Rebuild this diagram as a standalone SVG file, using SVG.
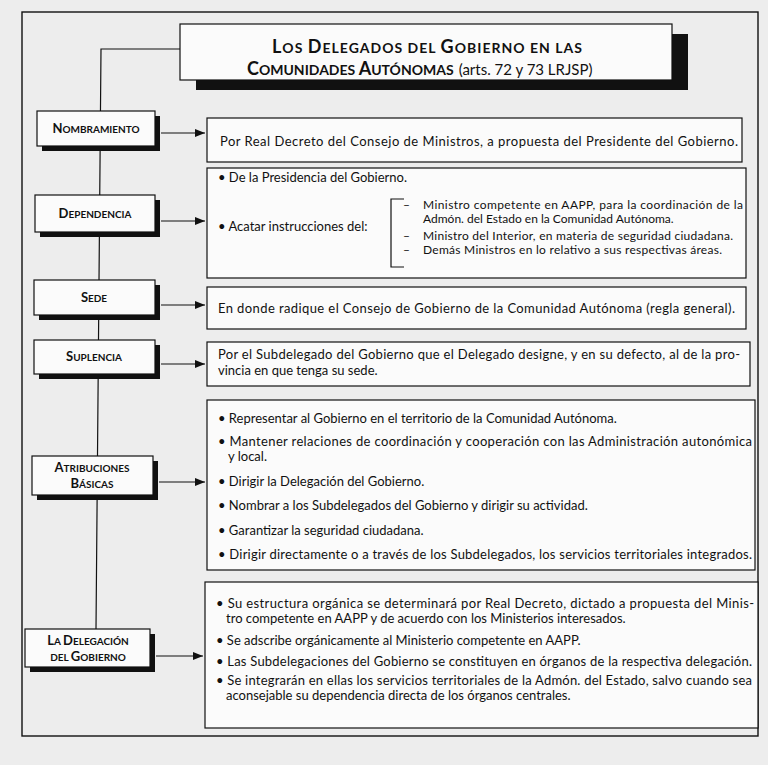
<svg xmlns="http://www.w3.org/2000/svg" width="768" height="765" viewBox="0 0 768 765">
<style>
.bg{fill:#ededed}
.frame{fill:none;stroke:#111;stroke-width:1.4}
.box{fill:#fbfbfb;stroke:#111;stroke-width:1.2}
.sh{fill:#111}
.ln{fill:none;stroke:#111;stroke-width:1.2}
.lbl{font-family:Lato,"Liberation Sans",sans-serif;font-weight:700;font-size:10px;fill:#111;text-anchor:middle}
.c{font-size:13px}
.t{font-family:Lato,"Liberation Sans",sans-serif;font-size:13px;fill:#111}
.s{font-family:Lato,"Liberation Sans",sans-serif;font-size:12px;fill:#111}
.ttl{font-family:Lato,"Liberation Sans",sans-serif;font-weight:700;font-size:14px;fill:#111}
.C{font-size:18px}
.ttr{font-family:Lato,"Liberation Sans",sans-serif;font-weight:400;font-size:15px;fill:#111}
</style>
<defs>
<marker id="ah" markerWidth="10" markerHeight="8" refX="10" refY="4" orient="auto" markerUnits="userSpaceOnUse">
<path d="M0,0 L10,4 L0,8 Z" fill="#111"/>
</marker>
</defs>
<rect class="bg" x="0" y="0" width="768" height="765"/>
<rect class="frame" x="22" y="12" width="736" height="724"/>

<g id="connectors">
<path class="ln" d="M180,49 L101,49 L96,629"/>
<line class="ln" x1="161" y1="133" x2="205" y2="133" marker-end="url(#ah)"/>
<line class="ln" x1="161" y1="221" x2="205" y2="221" marker-end="url(#ah)"/>
<line class="ln" x1="161" y1="305" x2="205" y2="305" marker-end="url(#ah)"/>
<line class="ln" x1="161" y1="364" x2="205" y2="364" marker-end="url(#ah)"/>
<line class="ln" x1="159" y1="482" x2="205" y2="482" marker-end="url(#ah)"/>
<line class="ln" x1="156" y1="656" x2="203" y2="656" marker-end="url(#ah)"/>
</g>

<g id="title">
<rect class="sh" x="196" y="34" width="492" height="56"/>
<rect class="box" x="180" y="24" width="492" height="56"/>
<text class="ttl" x="427" y="53" text-anchor="middle" textLength="310"><tspan class="C">L</tspan>OS <tspan class="C">D</tspan>ELEGADOS DEL <tspan class="C">G</tspan>OBIERNO EN LAS</text>
<text class="ttl" x="247" y="75"><tspan class="C">C</tspan>OMUNIDADES <tspan class="C">A</tspan>UTÓNOMAS<tspan class="ttr" dx="5">(arts. 72 y 73 LRJSP)</tspan></text>
</g>

<g id="nombramiento">
<rect class="sh" x="42" y="116" width="118" height="35"/>
<rect class="box" x="37" y="111" width="118" height="35"/>
<text class="lbl" x="96" y="133"><tspan class="c">N</tspan>OMBRAMIENTO</text>
</g>
<g id="nombramiento-text">
<rect class="box" x="207" y="118" width="535" height="44"/>
<text class="t" x="220" y="146" textLength="518">Por Real Decreto del Consejo de Ministros, a propuesta del Presidente del Gobierno.</text>
</g>

<g id="dependencia">
<rect class="sh" x="40" y="200" width="120" height="37"/>
<rect class="box" x="35" y="195" width="120" height="37"/>
<text class="lbl" x="95" y="218"><tspan class="c">D</tspan>EPENDENCIA</text>
</g>
<g id="dependencia-text">
<rect class="box" x="207" y="168" width="539" height="110"/>
<text class="t" x="218" y="182">• De la Presidencia del Gobierno.</text>
<text class="t" x="218" y="231">• Acatar instrucciones del:</text>
<path class="ln" d="M404,199 L391,199 L391,267 L404,267"/>
<text class="s" x="403" y="209">–</text>
<text class="s" x="423" y="209" textLength="320">Ministro competente en AAPP, para la coordinación de la</text>
<text class="s" x="423" y="223">Admón. del Estado en la Comunidad Autónoma.</text>
<text class="s" x="403" y="240">–</text>
<text class="s" x="423" y="240" textLength="310">Ministro del Interior, en materia de seguridad ciudadana.</text>
<text class="s" x="403" y="254">–</text>
<text class="s" x="423" y="254" textLength="299">Demás Ministros en lo relativo a sus respectivas áreas.</text>
</g>

<g id="sede">
<rect class="sh" x="39" y="285" width="121" height="35"/>
<rect class="box" x="34" y="280" width="121" height="35"/>
<text class="lbl" x="94" y="302"><tspan class="c">S</tspan>EDE</text>
</g>
<g id="sede-text">
<rect class="box" x="207" y="287" width="539" height="42"/>
<text class="t" x="218" y="313" textLength="517">En donde radique el Consejo de Gobierno de la Comunidad Autónoma (regla general).</text>
</g>

<g id="suplencia">
<rect class="sh" x="39" y="345" width="121" height="34"/>
<rect class="box" x="34" y="340" width="121" height="34"/>
<text class="lbl" x="94" y="361"><tspan class="c">S</tspan>UPLENCIA</text>
</g>
<g id="suplencia-text">
<rect class="box" x="207" y="342" width="543" height="44"/>
<text class="t" x="218" y="359" textLength="522">Por el Subdelegado del Gobierno que el Delegado designe, y en su defecto, al de la pro-</text>
<text class="t" x="218" y="375">vincia en que tenga su sede.</text>
</g>

<g id="atribuciones">
<rect class="sh" x="37" y="461" width="121" height="39"/>
<rect class="box" x="32" y="456" width="121" height="39"/>
<text class="lbl" x="92" y="472"><tspan class="c">A</tspan>TRIBUCIONES</text>
<text class="lbl" x="92" y="488"><tspan class="c">B</tspan>ÁSICAS</text>
</g>
<g id="atribuciones-text">
<rect class="box" x="207" y="400" width="548" height="170"/>
<text class="t" x="218" y="423">• Representar al Gobierno en el territorio de la Comunidad Autónoma.</text>
<text class="t" x="218" y="446" textLength="534">• Mantener relaciones de coordinación y cooperación con las Administración autonómica</text>
<text class="t" x="228" y="461">y local.</text>
<text class="t" x="218" y="486">• Dirigir la Delegación del Gobierno.</text>
<text class="t" x="218" y="510">• Nombrar a los Subdelegados del Gobierno y dirigir su actividad.</text>
<text class="t" x="218" y="535">• Garantizar la seguridad ciudadana.</text>
<text class="t" x="218" y="559" textLength="534">• Dirigir directamente o a través de los Subdelegados, los servicios territoriales integrados.</text>
</g>

<g id="delegacion">
<rect class="sh" x="30" y="634" width="125" height="38"/>
<rect class="box" x="25" y="629" width="125" height="38"/>
<text class="lbl" x="88" y="645"><tspan class="c">L</tspan>A <tspan class="c">D</tspan>ELEGACIÓN</text>
<text class="lbl" x="88" y="661">DEL <tspan class="c">G</tspan>OBIERNO</text>
</g>
<g id="delegacion-text">
<rect class="box" x="205" y="582" width="553" height="146"/>
<text class="t" x="216" y="608" textLength="538">• Su estructura orgánica se determinará por Real Decreto, dictado a propuesta del Minis-</text>
<text class="t" x="226" y="623">tro competente en AAPP y de acuerdo con los Ministerios interesados.</text>
<text class="t" x="216" y="645">• Se adscribe orgánicamente al Ministerio competente en AAPP.</text>
<text class="t" x="216" y="666" textLength="536">• Las Subdelegaciones del Gobierno se constituyen en órganos de la respectiva delegación.</text>
<text class="t" x="216" y="685" textLength="536">• Se integrarán en ellas los servicios territoriales de la Admón. del Estado, salvo cuando sea</text>
<text class="t" x="226" y="700">aconsejable su dependencia directa de los órganos centrales.</text>
</g>
</svg>
